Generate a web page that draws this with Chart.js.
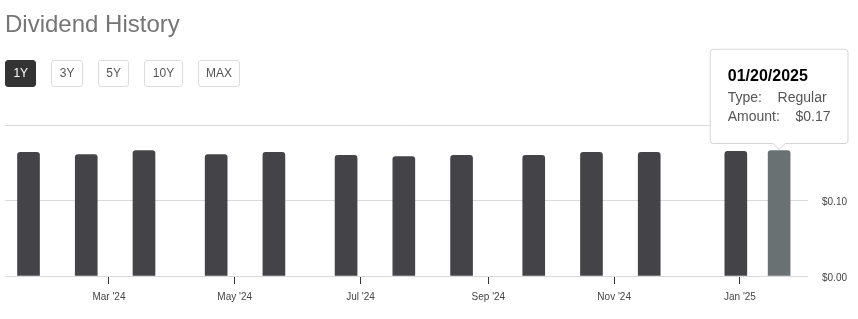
<!DOCTYPE html>
<html>
<head>
<meta charset="utf-8">
<title>Dividend History</title>
<script src="https://cdn.jsdelivr.net/npm/chart.js@4/dist/chart.umd.min.js"></script>
<style>
  html, body { margin: 0; padding: 0; background: #fff; }
  body { width: 858px; height: 319px; position: relative; overflow: hidden;
         font-family: "Liberation Sans", Arial, Helvetica, sans-serif; }
  h2 { position: absolute; left: 5px; top: 8px; margin: 0; font-size: 24px; font-weight: normal;
       color: #757575; line-height: 32px; z-index: 2; }
  .ranges { position: absolute; left: 5px; top: 60px; display: flex; gap: 15px; z-index: 2; }
  .ranges span { box-sizing: border-box; height: 27px; line-height: 25px; padding: 0 7.4px;
                 border: 1px solid #dcdcdc; border-radius: 3px; font-size: 12px; color: #555; background: #fff; }
  .ranges span.on { background: #333; border-color: #333; color: #fff; }
  #chart { position: absolute; left: 0; top: 0; z-index: 1; }
</style>
</head>
<body>
<h2>Dividend History</h2>
<div class="ranges"><span class="on">1Y</span><span>3Y</span><span>5Y</span><span>10Y</span><span>MAX</span></div>
<canvas id="chart" width="858" height="319"></canvas>
<script>
// Ex-dividend dates and payouts for the last year
const payDates = ['2024-01-22', '2024-02-19', '2024-03-18', '2024-04-22', '2024-05-20', '2024-06-24',
                  '2024-07-22', '2024-08-19', '2024-09-23', '2024-10-21', '2024-11-18', '2024-12-30', '2025-01-20'];
const amounts = [0.164, 0.161, 0.1665, 0.161, 0.164, 0.16, 0.1585, 0.16, 0.16, 0.164, 0.164, 0.1655, 0.1665];
const payTypes = ['Regular', 'Regular', 'Regular', 'Regular', 'Regular', 'Regular', 'Regular',
                  'Regular', 'Regular', 'Regular', 'Regular', 'Regular', 'Regular'];

// Month ticks on the date axis
const tickDates = ['2024-03-01', '2024-05-01', '2024-07-01', '2024-09-01', '2024-11-01', '2025-01-01'];
const tickLabels = ["Mar '24", "May '24", "Jul '24", "Sep '24", "Nov '24", "Jan '25"];

const yTicks = [0, 0.1, 0.2];

// Dates are placed on a linear axis counted in days from 2024-01-01
const DAY = 86400000;
const ORIGIN = Date.UTC(2024, 0, 1);
function dayNum(s) {
  const p = s.split('-').map(Number);
  return (Date.UTC(p[0], p[1] - 1, p[2]) - ORIGIN) / DAY;
}
function usDate(s) {
  const p = s.split('-');
  return p[1] + '/' + p[2] + '/' + p[0];
}

const FONT = '"Liberation Sans", Arial, Helvetica, sans-serif';
const points = payDates.map((d, i) => ({ x: dayNum(d), y: amounts[i] }));
const tickPos = tickDates.map(dayNum);

const chart = new Chart(document.getElementById('chart'), {
  type: 'bar',
  data: {
    datasets: [{
      data: points,
      backgroundColor: '#444347',
      hoverBackgroundColor: '#697173',
      borderWidth: 0,
      borderRadius: 3,
      borderSkipped: 'start',
      barThickness: 22
    }]
  },
  options: {
    responsive: false,
    maintainAspectRatio: false,
    animation: false,
    events: [],
    layout: { padding: { left: 5, top: 125.3, right: 0, bottom: 0 } },
    plugins: {
      legend: { display: false },
      tooltip: {
        enabled: true,
        yAlign: 'bottom',
        xAlign: 'center',
        backgroundColor: '#ffffff',
        borderColor: '#d4d4d4',
        borderWidth: 1,
        cornerRadius: 3,
        caretSize: 6,
        caretPadding: 1,
        displayColors: false,
        padding: { top: 18, left: 17.5, right: 17.5, bottom: 18 },
        titleFont: { family: FONT, size: 16, weight: 'bold' },
        titleColor: '#000000',
        titleMarginBottom: 3,
        bodyFont: { family: FONT, size: 14 },
        bodyColor: '#555555',
        bodySpacing: 2.5,
        callbacks: {
          title: items => usDate(payDates[items[0].dataIndex]),
          label: item => ['Type:    ' + payTypes[item.dataIndex],
                          'Amount:    $' + amounts[item.dataIndex].toFixed(2)]
        }
      }
    },
    scales: {
      x: {
        type: 'linear',
        offset: false,
        min: 9.6,
        max: 399.0,
        afterBuildTicks: s => { s.ticks = tickPos.map(v => ({ value: v })); },
        afterFit: s => { s.height = 43; },
        ticks: {
          autoSkip: false,
          maxRotation: 0,
          padding: 7,
          color: '#444',
          font: { family: FONT, size: 10 },
          callback: (v, i) => tickLabels[i]
        },
        grid: { offset: false, drawOnChartArea: false, drawTicks: true, tickLength: 8, tickColor: '#333', lineWidth: 1 },
        border: { display: false }
      },
      y: {
        position: 'right',
        min: 0,
        max: 0.2,
        afterBuildTicks: s => { s.ticks = yTicks.map(v => ({ value: v })); },
        afterFit: s => { s.width = 50; },
        ticks: {
          padding: 14,
          labelOffset: 2,
          color: '#444',
          font: { family: FONT, size: 10 },
          callback: v => '$' + v.toFixed(2)
        },
        grid: { color: '#d9d9d9', lineWidth: 1, drawTicks: false },
        border: { display: false }
      }
    }
  }
});

// Highlight the most recent payout and show its details
const last = amounts.length - 1;
chart.setActiveElements([{ datasetIndex: 0, index: last }]);
const el = chart.getDatasetMeta(0).data[last];
chart.tooltip.setActiveElements([{ datasetIndex: 0, index: last }], { x: el.x, y: el.y });
chart.update();
</script>
</body>
</html>
